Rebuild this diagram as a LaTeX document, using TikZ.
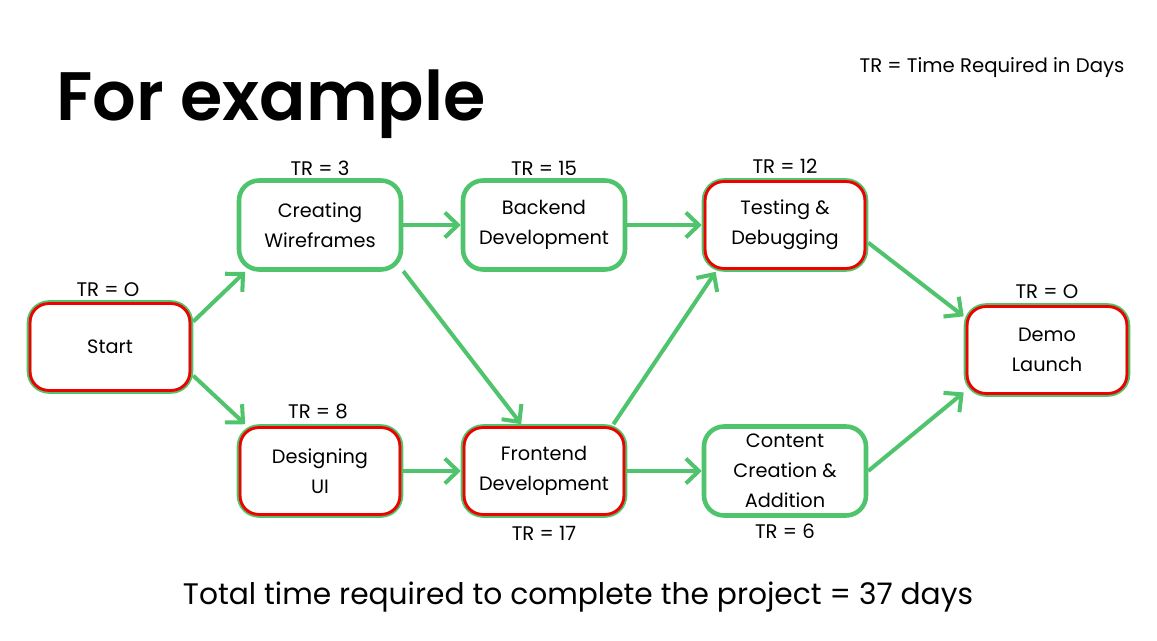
\documentclass[tikz,border=0pt]{standalone}
\usepackage{fontspec}
\setmainfont{Poppins}
\newfontfamily\titlefont{Poppins SemiBold}
\usepackage{tikz}
\usetikzlibrary{arrows.meta,positioning,calc}
\definecolor{taskgreen}{RGB}{80,196,108}
\definecolor{critred}{RGB}{240,0,0}

\begin{document}
\begin{tikzpicture}[x=0.02cm, y=-0.02cm,
    every node/.style={font=\fontsize{11}{17}\selectfont},
    task/.style={draw=taskgreen, line width=2.6pt, rounded corners=0.4cm, fill=white, minimum width=3.24cm, minimum height=1.78cm, align=center, inner sep=0pt},
    critline/.style={draw=critred, line width=1.6pt, rounded corners=0.37cm},
    tr/.style={font=\fontsize{11.2}{12}\selectfont},
    link/.style={-{Straight Barb[length=2.6mm, width=5mm]}, draw=taskgreen, line width=2.3pt},
]
\useasboundingbox (0,0) rectangle (1157,641);

\node[font=\fontsize{39}{44}\titlefont] (title) at (271,104) {For example};
\node[tr] (legend) at (992,68) {TR = Time Required in Days};

% tasks
\node[task] (start) at (110,347) {Start};
\node[task] (wire) at (320,225) {Creating\\Wireframes};
\node[task] (design) at (320,471) {Designing\\UI};
\node[task] (back) at (544,225) {Backend\\Development};
\node[task] (front) at (544,471) {Frontend\\Development};
\node[task] (test) at (785,225) {Testing \&\\Debugging};
\node[task] (content) at (785,471) {Content\\Creation \&\\Addition};
\node[task] (demo) at (1047,350) {Demo\\Launch};

% critical path
\foreach \n in {start,design,front,test,demo}
  \draw[critline] ($(\n.south west)+(1.9pt,1.9pt)$) rectangle ($(\n.north east)+(-1.9pt,-1.9pt)$);

% time required
\node[tr] (trstart) at (108,290) {TR = O};
\node[tr] (trwire) at (320,168) {TR = 3};
\node[tr] (trback) at (544,168) {TR = 15};
\node[tr] (trtest) at (785,166) {TR = 12};
\node[tr] (trdemo) at (1047,292) {TR = O};
\node[tr] (trdesign) at (318,411) {TR = 8};
\node[tr] (trfront) at (544,533) {TR = 17};
\node[tr] (trcontent) at (785,531) {TR = 6};

\draw[link] (start.17) -- (wire.212);
\draw[link] (start.-19) -- (design.148);
\draw[link] (wire.east) -- (back.west);
\draw[link] (wire.-29) -- (front.116);
\draw[link] (design.east) -- (front.west);
\draw[link] (back.east) -- (test.west);
\draw[link] (front.34) -- (test.214);
\draw[link] (front.east) -- (content.west);
\draw[link] (test.-12) -- (demo.158);
\draw[link] (content.east) -- (demo.207);

\node[font=\fontsize{16.9}{20}\selectfont] (total) at (578,597) {Total time required to complete the project = 37 days};
\end{tikzpicture}
\end{document}
